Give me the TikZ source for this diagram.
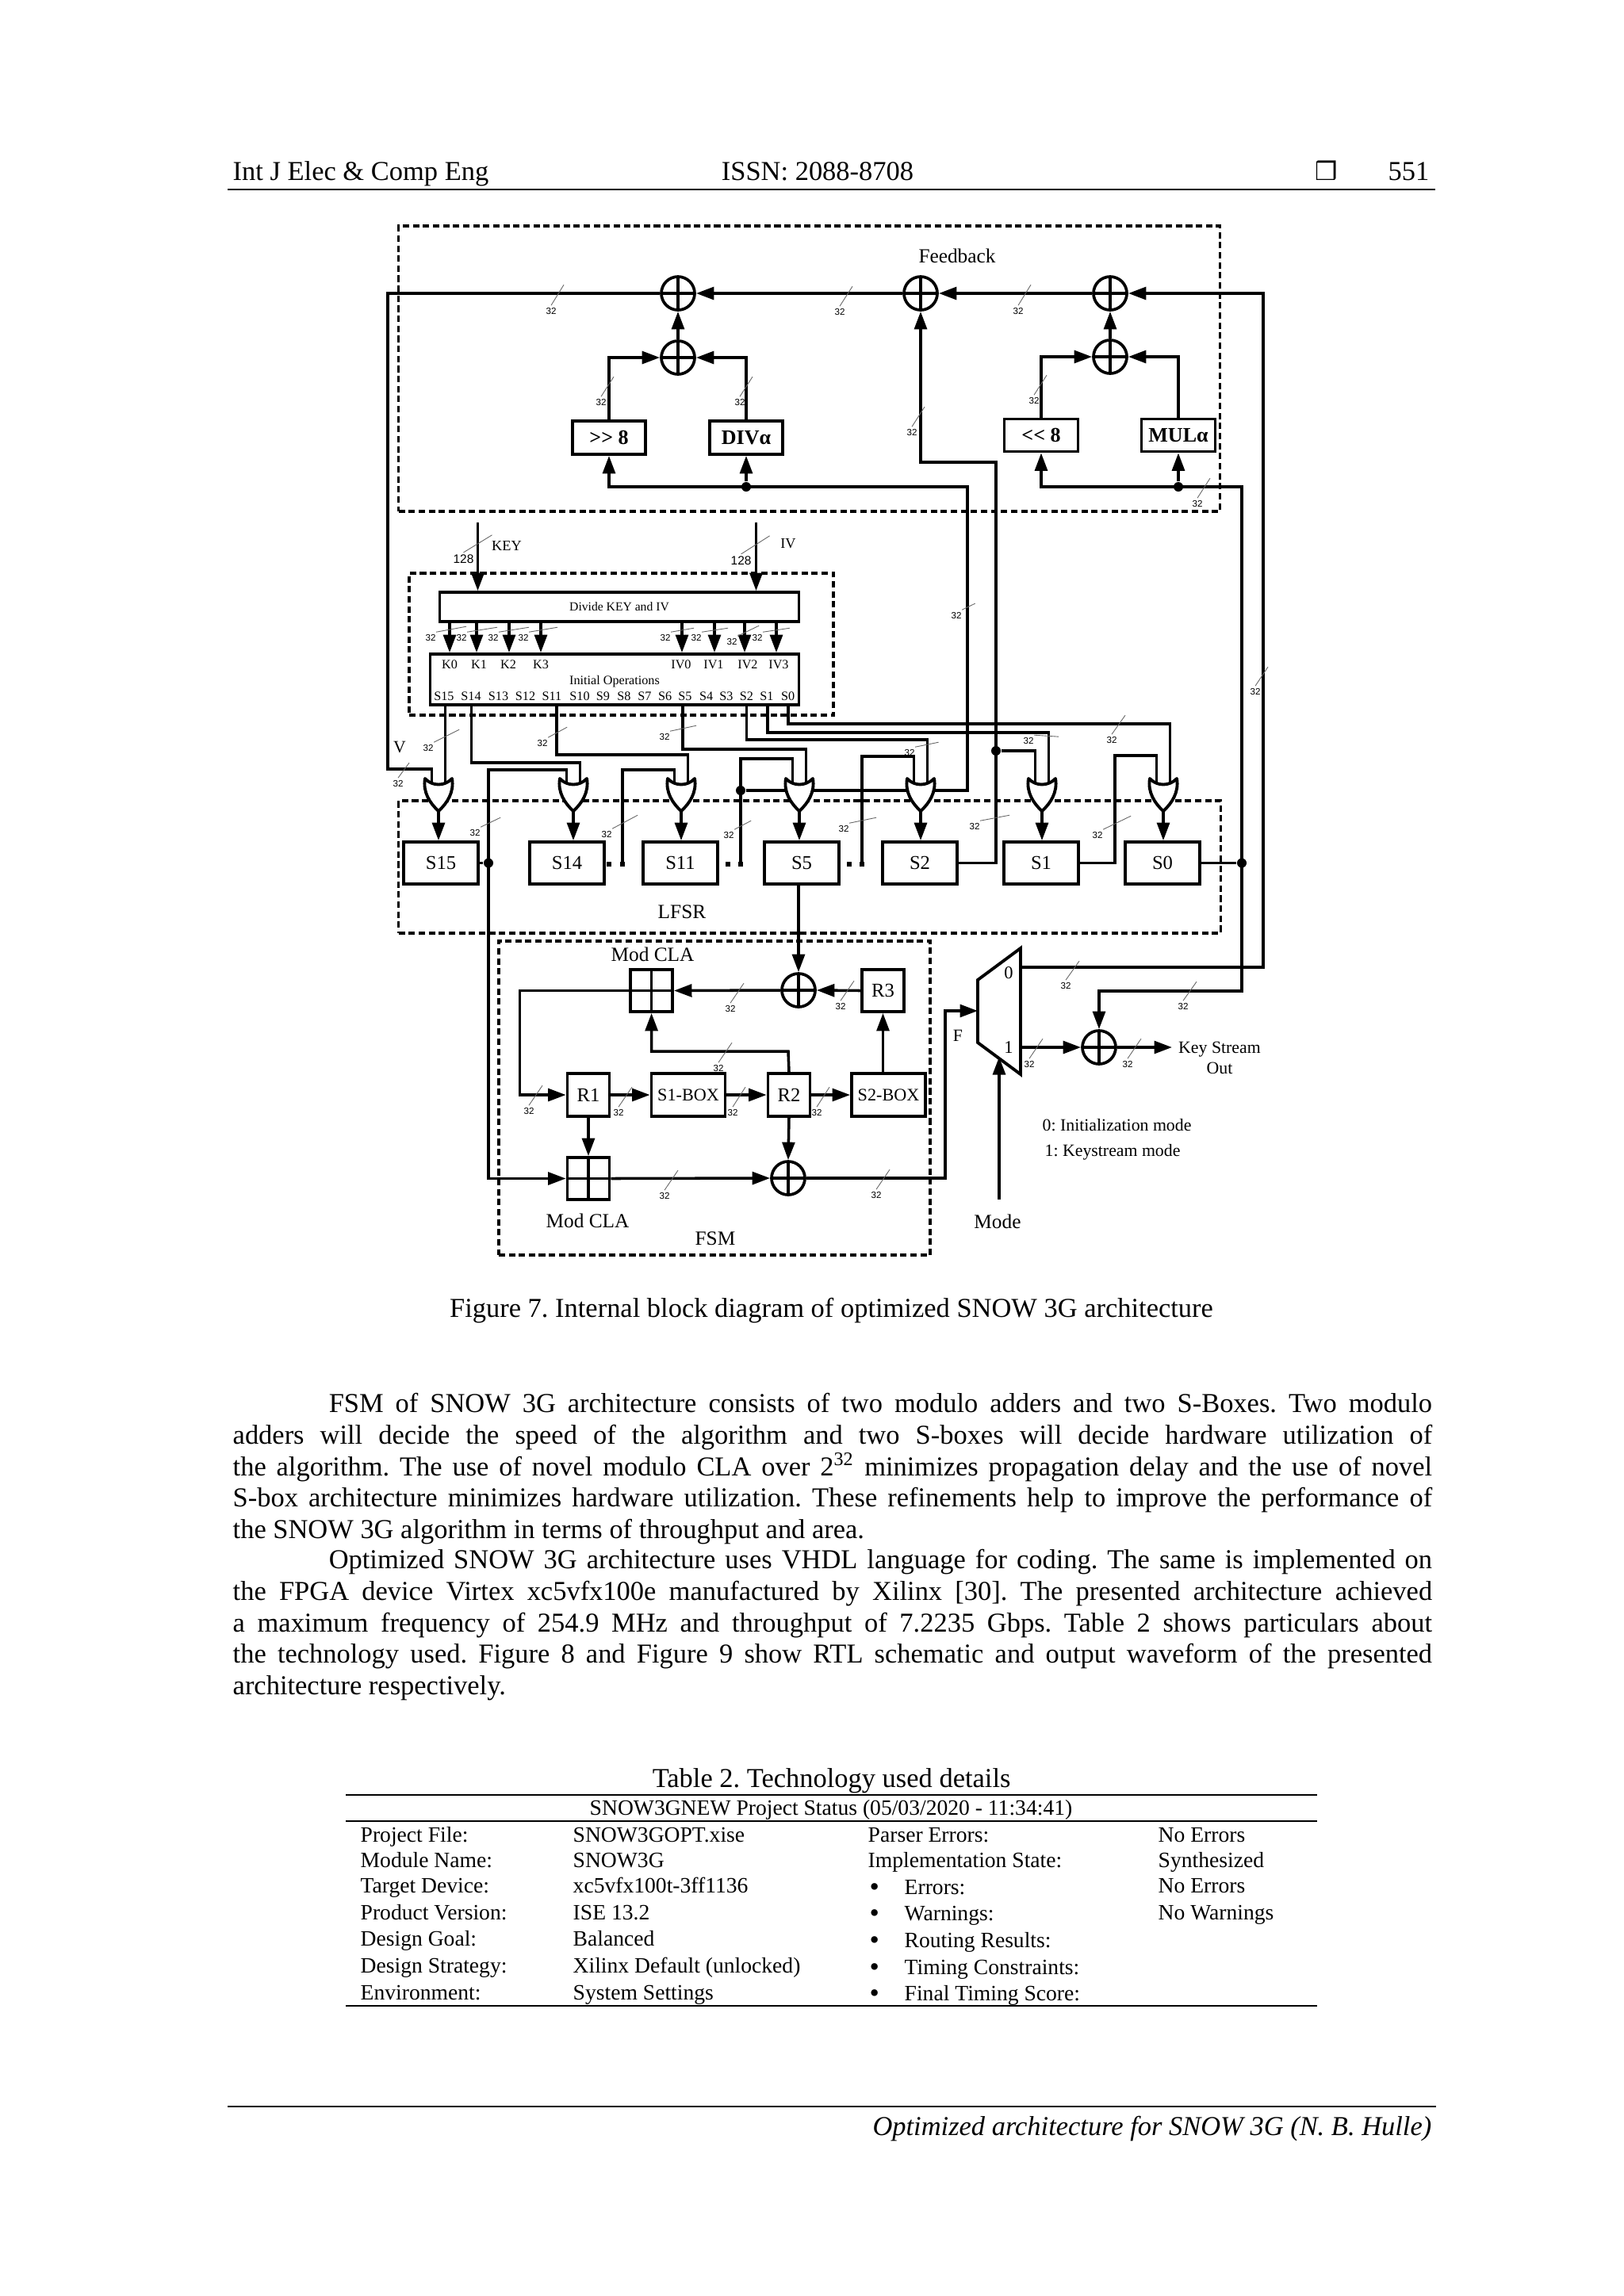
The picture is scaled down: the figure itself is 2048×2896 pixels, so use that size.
\documentclass[tikz,border=0pt]{standalone}
\usepackage{fontspec}
\setmainfont{Liberation Serif}
\setsansfont{Liberation Sans}
\newfontfamily\symfont{DejaVu Sans}
\usetikzlibrary{arrows.meta,backgrounds}
\newcommand{\fsz}[1]{\fontsize{#1}{#1}\selectfont}
\tikzset{
  wire/.style={line width=1pt},
  arrwire/.style={wire,-{Triangle[length=6.4pt,width=4.5pt]}},
  regbox/.style={draw,line width=1.05pt,inner sep=0pt,minimum width=#1,font=\fsz{7}},
  dashbox/.style={draw,line width=1pt,dash pattern=on 2.3pt off 1.3pt,inner sep=0pt},
  xorgate/.style={circle,draw,line width=1.05pt,inner sep=0pt,minimum size=.42cm,
    path picture={\draw[line width=1pt] (path picture bounding box.north) -- (path picture bounding box.south)
      (path picture bounding box.west) -- (path picture bounding box.east);}},
  addbox/.style={draw,line width=1.05pt,inner sep=0pt,minimum size=.53cm,
    path picture={\draw[line width=1pt] (path picture bounding box.north) -- (path picture bounding box.south)
      (path picture bounding box.west) -- (path picture bounding box.east);}},
  jdot/.style={circle,fill,inner sep=0pt,minimum size=.12cm},
  sqdot/.style={fill,inner sep=0pt,minimum size=.055cm},
  lab/.style={inner sep=0pt,font=\fsz{7.2}},
  smalllab/.style={inner sep=0pt,font=\fsz{6.2}},
  opslab/.style={inner sep=0pt,text height=.115cm,text depth=0pt,font=\fsz{4.6}},
  widthlab/.style={inner sep=0pt,font=\sffamily\fsz{3.3}},
  bigwidth/.style={inner sep=0pt,font=\sffamily\fsz{4.4}},
  slashmark/.style={line width=.25pt,black!60},
  pagetext/.style={inner sep=0pt,text height=.23cm,text depth=.07cm,font=\fsz{9.8}},
  celltext/.style={inner sep=0pt,anchor=west,text height=.19cm,text depth=.05cm,font=\fsz{7.85}},
  bodytext/.style={inner sep=0pt,anchor=north west,text width=15.115cm,align=justify,
    font=\fontsize{9.8}{11.26}\selectfont},
  orgate/.pic={
    \draw[line width=1.1pt,fill=white,line join=round] (-17,-41) .. controls (-8,-31) and (8,-31) .. (17,-41)
      .. controls (20,-24) and (11,-10) .. (0,0) .. controls (-11,-10) and (-20,-24) .. (-17,-41) -- cycle;
    \coordinate (-l) at (-8.5,-36); \coordinate (-r) at (8.5,-36); \coordinate (-out) at (0,0);
  }
}
\begin{document}
\frenchspacing
\begin{tikzpicture}[x=0.01cm,y=-0.01cm]
\useasboundingbox (0,0) rectangle (2048,2896);
% page head and foot
\node[pagetext,anchor=west] (head1) at (293,219) {Int J Elec \& Comp Eng};
\node[pagetext] (head2) at (1031,219) {ISSN: 2088-8708};
\node[inner sep=0pt,font=\symfont\bfseries\fsz{9}] (head3) at (1673,215) {❒};
\node[pagetext,anchor=east] (head4) at (1803,219) {551};
\draw[line width=.65pt] (287,239) coordinate (ruleA) -- (1810,239) coordinate (ruleB);
\draw[line width=.65pt] (287,2657) coordinate (ruleC) -- (1811,2657) coordinate (ruleD);
\node[pagetext,anchor=east,font=\fsz{9.8}\itshape] (foot) at (1806,2685) {Optimized architecture for SNOW 3G (N. B. Hulle)};
% registers and blocks
\foreach \n/\t/\x/\y/\w/\h in {s15/S15/556/1088.5/94/53,s14/S14/715/1088.5/94/53,s11/S11/858/1088.5/94/53,s5/S5/1011/1088.5/94/53,
  s2/S2/1160/1088.5/94/53,s1/S1/1313/1088.5/94/53,s0/S0/1466/1088.5/94/53,r3/R3/1113.5/1249.5/53/53,r1/R1/742/1381/53/54,r2/R2/995/1381/53/54}
  \node[regbox=\w*0.01cm,minimum height=\h*0.01cm] (\n) at (\x,\y) {\t};
\node[regbox=.93cm,minimum height=.54cm,font=\fsz{6.3}] (sb1) at (868,1381) {S1-BOX};
\node[regbox=.93cm,minimum height=.54cm,font=\fsz{6.3}] (sb2) at (1120.5,1381) {S2-BOX};
\node[regbox=.925cm,minimum height=.42cm,font=\fsz{7.4}\bfseries] (shr) at (768,552) {>\kern0pt> 8};
\node[regbox=.925cm,minimum height=.42cm,font=\fsz{7.4}\bfseries] (dva) at (941,552) {DIVα};
\node[regbox=.93cm,minimum height=.41cm,font=\fsz{7.4}\bfseries] (shl) at (1313,549) {<\kern0pt< 8};
\node[regbox=.93cm,minimum height=.41cm,font=\fsz{7.4}\bfseries] (mla) at (1486,549) {MULα};
\node[regbox=4.53cm,minimum height=.37cm,font=\fsz{4.45}] (divide) at (781,765.5) {Divide KEY and IV};
\node[regbox=4.65cm,minimum height=.64cm] (ops) at (775,857) {};
\node[addbox] (ca) at (821.6,1249.5) {};
\node[addbox] (cb) at (742,1486.5) {};
% xor gates
\foreach \n/\x/\y in {xa/855/370,xb/1161/370,xc/1400/370,xd/855/451,xe/1400/450,xf/1007/1249,xg/994/1486,xk/1386/1321}
  \node[xorgate] (\n) at (\x,\y) {};
% or gates above the registers
\foreach \n/\x in {o15/553,o14/723,o11/859,o5/1008,o2/1161,o1/1314,o0/1467}
  \pic (\n) at (\x,1023) {orgate};
% gaps in the register chain
\foreach \n/\x in {sqa/768,sqb/785,sqc/918,sqd/934,sqe/1071,sqf/1087}
  \node[sqdot] (\n) at (\x,1090) {};
% the mux
\coordinate (ma) at (1233,1236); \coordinate (mb) at (1287,1196); \coordinate (mc) at (1287,1355); \coordinate (md) at (1233,1315);
\draw[line width=1.1pt,line join=miter] (ma) -- (mb) -- (mc) -- (md) -- cycle;
\node[lab,font=\fsz{6.4}] (mux0) at (1272,1227) {0};
\node[lab,font=\fsz{6.4}] (mux1) at (1272,1321) {1};
% bend points
\foreach \n/\x/\y in {busR/1593/370,vc/489/970,c15t/616/971,tapA/1220/614,tapB/1256/583,tapC/1566/614,tapD/1566/1250,
  modeA/1260/1513,modeB/1260/1333,keyA/602.5/659,ivA/953.5/659,m0/1287/1220,m1/1287/1321,mf/1233/1275,fc/1192/1275,
  fb1/655.5/1381,m2/994/1326,ko/1478/1321,c1t/1406/953}
  \coordinate (\n) at (\x,\y);
\node[jdot] (j15) at (c15t |- s15.east) {};
\node[jdot] (j11) at (934,997) {};
\node[jdot] (j2) at (1256,947) {};
\node[jdot] (j0) at (tapD |- s0.east) {};
\node[jdot] (j1) at (dva.south |- tapA) {};
\node[jdot] (j3) at (mla.south |- tapC) {};
\begin{scope}[on background layer]
\node[dashbox,minimum width=10.35cm,minimum height=3.6cm] (fbbox) at (1020.5,465) {};
\node[dashbox,minimum width=5.35cm,minimum height=1.79cm] (initbox) at (783.5,812.5) {};
\node[dashbox,minimum width=10.36cm,minimum height=1.67cm] (lfsrbox) at (1021,1093.5) {};
\node[dashbox,minimum width=5.44cm,minimum height=3.96cm] (fsmbox) at (901,1385) {};
% feedback row
\draw[arrwire] (m0) -| (busR) -- (xc.east);
\draw[arrwire] (xc.west) -- (xb.east);
\draw[arrwire] (xb.west) -- (xa.east);
\draw[wire] (xa.west) -| (vc) -| (o15-l);
\draw[arrwire] (xd.north) -- (xa.south);
\draw[arrwire] (xe.north) -- (xc.south);
\draw[arrwire] (shr.north) |- (xd.west);
\draw[arrwire] (dva.north) |- (xd.east);
\draw[arrwire] (shl.north) |- (xe.west);
\draw[arrwire] (mla.north) |- (xe.east);
\draw[arrwire] (j11) -| (tapA) -| (shr.south);
\draw[arrwire] (j1) -- (dva.south);
\draw[arrwire] (tapD) -- (tapC) -| (shl.south);
\draw[arrwire] (j3) -- (mla.south);
\draw[arrwire] (s2.east) -| (tapB) -| (xb.south);
% key and iv into the init block
\draw[arrwire] (keyA) -- (keyA |- divide.north);
\draw[arrwire] (ivA) -- (ivA |- divide.north);
\foreach \n/\ax in {k0/567,k1/601,k2/642,k3/682,v0/860,v1/901,v2/939,v3/979} {
  \coordinate (\n) at (\ax,805);
  \draw[arrwire] (\n |- divide.south) -- (\n |- ops.north);
}
% init block down to the or gates
\draw[wire] (o15-r |- ops.south) -- (o15-r);
\foreach \g/\x/\y in {o14/594.4/962,o11/702/952,o5/861/945,o2/941.5/933,o1/968/924,o0/994/913} {
  \coordinate (b\g) at (\x,\y);
  \draw[wire] (b\g |- ops.south) -- (b\g) -| (\g-r);
}
% register outputs and the or inputs
\draw[arrwire] (o14-l) |- (c15t) |- (cb.west);
\draw[wire] (s15.east) -- (j15);
\foreach \g/\q/\y in {o11/sqb/971,o5/sqd/957,o2/sqf/954} {
  \coordinate (\q t) at (\q |- 0,\y);
  \draw[wire] (\g-l) |- (\q t) -- (\q);
}
\draw[wire] (j2) -| (o1-l);
\draw[wire] (o0-l) |- (c1t) |- (s1.east);
\draw[wire] (s0.east) -- (j0);
\foreach \g/\r in {o15/s15,o14/s14,o11/s11,o5/s5,o2/s2,o1/s1,o0/s0}
  \draw[arrwire] (\g-out) -- (\g-out |- \r.north);
% fsm
\draw[arrwire] (xf.north |- s5.south) -- (xf.north);
\draw[arrwire] (r3.west) -- (xf.east);
\draw[arrwire] (xf.west) -- (ca.east);
\draw[arrwire] (ca.west) -| (fb1) -- (r1.west);
\draw[arrwire] (r1.east) -- (sb1.west);
\draw[arrwire] (sb1.east) -- (r2.west);
\draw[arrwire] (r2.east) -- (sb2.west);
\draw[arrwire] (r3.south |- sb2.north) -- (r3.south);
\draw[arrwire] (r2.north) -- (m2) -| (ca.south);
\draw[arrwire] (r1.south) -- (cb.north);
\draw[arrwire] (r2.south) -- (xg.north);
\draw[arrwire] (cb.east) -- (xg.west);
\draw[arrwire] (xg.east) -| (fc) -- (mf);
% mux and key stream
\draw[arrwire] (modeA) -- (modeB);
\draw[arrwire] (m1) -- (xk.west);
\draw[arrwire] (j0) -- (tapD) -| (xk.north);
\draw[arrwire] (xk.east) -- (ko);
\end{scope}
% labels
\foreach \n/\t/\x/\y in {lfeed/Feedback/1207/323,lmoda/Mod CLA/823/1204,lmodb/Mod CLA/741/1540,lfsm/FSM/902/1562,llfsr/LFSR/860/1150,lmode/Mode/1258/1541}
  \node[lab] (\n) at (\x,\y) {\t};
\node[smalllab,font=\fsz{5.2}] (lkey) at (639,688) {KEY};
\node[smalllab,font=\fsz{5.2}] (liv) at (994,686) {IV};
\node[smalllab] (lv) at (504,943) {V};
\node[smalllab] (lf) at (1208,1306) {F};
\node[smalllab,align=center] (lkeyout) at (1538,1334.5) {Key Stream\\[1pt]Out};
\node[smalllab,anchor=west] (lmodea) at (1314,1419) {0: Initialization mode};
\node[smalllab,anchor=west] (lmodeb) at (1317,1453) {1: Keystream mode};
\foreach \n/\t/\x in {lk0/K0/567,lk1/K1/604,lk2/K2/641,lk3/K3/682,liv0/IV0/859,liv1/IV1/900,liv2/IV2/943,liv3/IV3/982}
  \node[opslab] (\n) at (\x,838) {\t};
\node[opslab,text depth=.03cm] (linit) at (775,859) {Initial Operations};
\foreach \t/\x [count=\i] in {S15/560,S14/594,S13/628.5,S12/662.5,S11/696,S10/731,S9/760.5,S8/787,S7/813,S6/838.6,S5/864,S4/890.6,S3/916,S2/941.5,S1/967,S0/993.6}
  \node[opslab] (ls\i) at (\x,878) {\t};
% bus widths, each with its slash
\foreach \a/\lx/\ly/\dx/\dy [count=\i] in {north/695/392/16/-26,north/1059/393/16/-25,north/1284/392/16/-26,north/758/507/16/-25,
  north/933/507/16/-25,north/1150/545/16/-25,north/1304/505/16/-25,north/1510/635/16/-25,north/502/988/14/-19,north/1583/872/16/-24,
  north/1402/933/17/-24,north/921/1272/17/-25,north/1060/1269/17/-25,north/906/1347/17/-25,north/667/1401/17/-25,north/780/1403/17/-25,
  north/924/1403/16/-25,north/1030/1403/16/-25,north/838/1508/17/-25,north/1105/1507/17/-25,north/1344/1243/17/-24,north/1492/1269/17/-24,
  north/1298/1342/17/-25,north/1422/1342/17/-25,
  north east/543/804/38/-7,north east/582/804/38/-6,north east/622/804/38/-6,north east/660/804/36/-6,north east/839/804/29/-5,
  north east/878/804/33/-5,north east/955/804/34/-5,north east/923/809/27/-13,north east/540/943/32/-16,north east/684/937/24/-13,
  north east/838/929/33/-7,north east/1206/776/16.5/-8,north east/1147/949/29.5/-6,north east/1297/934/31/2,north east/599/1050/25/-12,
  north east/765/1052/32/-17,north east/919/1053/21/-11,north east/1064/1045/34/-7,north east/1229/1042/37/-7,north east/1384/1053/35/-17} {
  \node[widthlab] (w\i) at (\lx,\ly) {32};
  \draw[slashmark] (w\i.\a) ++(0,-2) -- ++(\dx,\dy);
}
\node[bigwidth] (wkey) at (584.5,705) {128};
\node[bigwidth] (wiv) at (934.6,707) {128};
\draw[slashmark] (wkey.north) ++(0,-2) -- ++(36,-22);
\draw[slashmark] (wiv.north) ++(0,-2) -- ++(36,-23);
% caption and the running text
\node[pagetext] (caption) at (1048.5,1653) {Figure 7. Internal block diagram of optimized SNOW 3G architecture};
\node[bodytext] (para1) at (293,1757) {\hspace*{1.21cm}FSM of SNOW 3G architecture consists of two modulo adders and two S-Boxes. Two modulo\linebreak
adders will decide the speed of the algorithm and two S-boxes will decide hardware utilization of\linebreak
the algorithm. The use of novel modulo CLA over 2\textsuperscript{32} minimizes propagation delay and the use of novel\linebreak
S-box architecture minimizes hardware utilization. These refinements help to improve the performance of\linebreak
the SNOW 3G algorithm in terms of throughput and area.};
\node[bodytext] (para2) at (293,1954) {\hspace*{1.21cm}Optimized SNOW 3G architecture uses VHDL language for coding. The same is implemented on\linebreak
the FPGA device Virtex xc5vfx100e manufactured by Xilinx [30]. The presented architecture achieved\linebreak
a maximum frequency of 254.9 MHz and throughput of 7.2235 Gbps. Table 2 shows particulars about\linebreak
the technology used. Figure 8 and Figure 9 show RTL schematic and output waveform of the presented\linebreak
architecture respectively.};
% table
\node[pagetext] (tabtitle) at (1048.6,2246) {Table 2. Technology used details};
\draw[line width=.6pt] (436,2264) coordinate (tabA) -- (1661,2264) coordinate (tabB);
\draw[line width=.6pt] (436,2297) coordinate (tabC) -- (1661,2297) coordinate (tabD);
\draw[line width=.6pt] (436,2530) coordinate (tabE) -- (1661,2530) coordinate (tabF);
\node[celltext,anchor=center] (tabhead) at (1048,2282) {SNOW3GNEW Project Status (05/03/2020 - 11:34:41)};
\foreach \t/\y [count=\i] in {Project File:/2316,Module Name:/2348,Target Device:/2380,Product Version:/2414,Design Goal:/2447,Design Strategy:/2481,Environment:/2515}
  \node[celltext] (ca\i) at (454,\y) {\t};
\foreach \t/\y [count=\i] in {SNOW3GOPT.xise/2316,SNOW3G/2348,xc5vfx100t-3ff1136/2380,ISE 13.2/2414,Balanced/2447,Xilinx Default (unlocked)/2481,System Settings/2515}
  \node[celltext] (cb\i) at (722,\y) {\t};
\foreach \t/\y [count=\i] in {Parser Errors:/2316,Implementation State:/2348}
  \node[celltext] (cc\i) at (1094,\y) {\t};
\foreach \t/\y [count=\i] in {Errors:/2382,Warnings:/2415,Routing Results:/2449,Timing Constraints:/2483,Final Timing Score:/2516} {
  \node[celltext,font=\fsz{10}] (cd\i) at (1096,\y+2) {•};
  \node[celltext] (ce\i) at (1140,\y) {\t};
}
\foreach \t/\y [count=\i] in {No Errors/2316,Synthesized/2348,No Errors/2380,No Warnings/2414}
  \node[celltext] (cf\i) at (1460,\y) {\t};
\end{tikzpicture}
\end{document}
